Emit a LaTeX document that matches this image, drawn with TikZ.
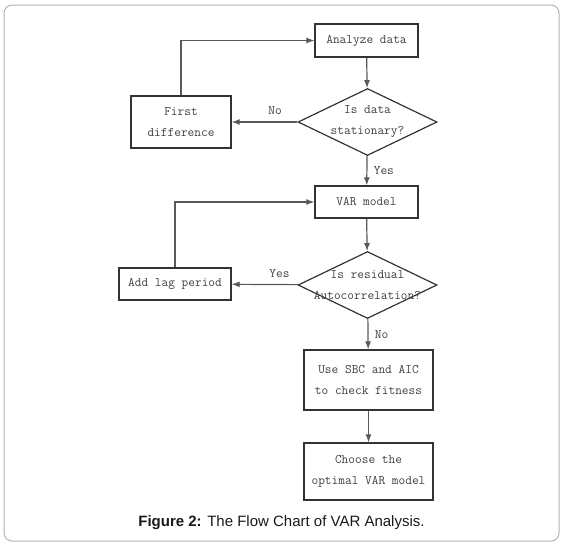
\documentclass[tikz,border=0pt]{standalone}
\usepackage{fontspec}
\setmainfont{Liberation Sans}
\usepackage{tikz}
\usetikzlibrary{positioning, arrows.meta, calc, shapes.geometric}
\newcommand{\chartfont}{\ttfamily\fontsize{13}{21}\selectfont}

\begin{document}
\begin{tikzpicture}[x=1pt, y=-1pt, >={Latex[length=8pt,width=6pt]},
	stepbox/.style = {rectangle, draw = black!80, line width = 1.3pt,
		align = center, text = black!75, font = \chartfont},
	decision/.style = {diamond, draw = black!80, line width = 1.2pt,
		minimum width = 139, minimum height = 67, inner sep = 0},
	flow/.style = {->, line width = 1.2pt, draw = black!65},
	flowlabel/.style = {text = black!75, font = \chartfont}]
	\useasboundingbox (0,0) rectangle (564,547);
	\draw[gray!60, line width = 1pt, rounded corners = 8] (4,5) rectangle (559,541);
	
	\node[stepbox, minimum width = 103, minimum height = 33] (analyze) at (366.5,40.5) {Analyze data};
	
	% Decisions
	\node[decision, label = {[flowlabel, align = center]center:Is data\\stationary?}]
	(stationary) at ($(analyze) + (1,81.5)$) {};
	\node[decision, label = {[flowlabel, align = center]center:Is residual\\Autocorrelation?}]
	(residual) at ($(analyze) + (1,244.5)$) {};
	
	% Steps
	\node[stepbox, minimum width = 100, minimum height = 52] (firstdiff) at ($(analyze) + (-185.5,81.5)$) {First\\difference};
	\node[stepbox, minimum width = 103, minimum height = 32] (varmodel) at ($(analyze) + (0,161.5)$) {VAR model};
	\node[stepbox, minimum width = 112, minimum height = 32] (addlag) at ($(analyze) + (-191.5,243.5)$) {Add lag period};
	\node[stepbox, minimum width = 129, minimum height = 60] (fitness) at ($(analyze) + (2,339.5)$) {Use SBC and AIC\\to check fitness};
	\node[stepbox, minimum width = 129, minimum height = 57] (optimal) at ($(analyze) + (2,431)$) {Choose the\\optimal VAR model};
	
	% Caption
	\node[font = \fontsize{15}{18}\selectfont, text = black!90] (caption) at (281.5,523) {\textbf{Figure 2:} The Flow Chart of VAR Analysis.};
	
	% Connections
	\draw[flow] (analyze) -- (stationary);
	\draw[flow] (stationary) -- (firstdiff) node[flowlabel, pos = 0.34, above = 3pt] {No};
	\draw[flow] (firstdiff.north) |- (analyze.west);
	\draw[flow] (stationary) -- (varmodel) node[flowlabel, midway, right = 3pt] {Yes};
	\draw[flow] (varmodel) -- (residual);
	\draw[flow] (residual) -- (addlag) node[flowlabel, pos = 0.28, above = 3pt] {Yes};
	\draw[flow] (addlag.north) |- (varmodel.west);
	\draw[flow] (residual) -- (fitness) node[flowlabel, midway, right = 3pt] {No};
	\draw[flow] (fitness) -- (optimal);
\end{tikzpicture}
\end{document}
